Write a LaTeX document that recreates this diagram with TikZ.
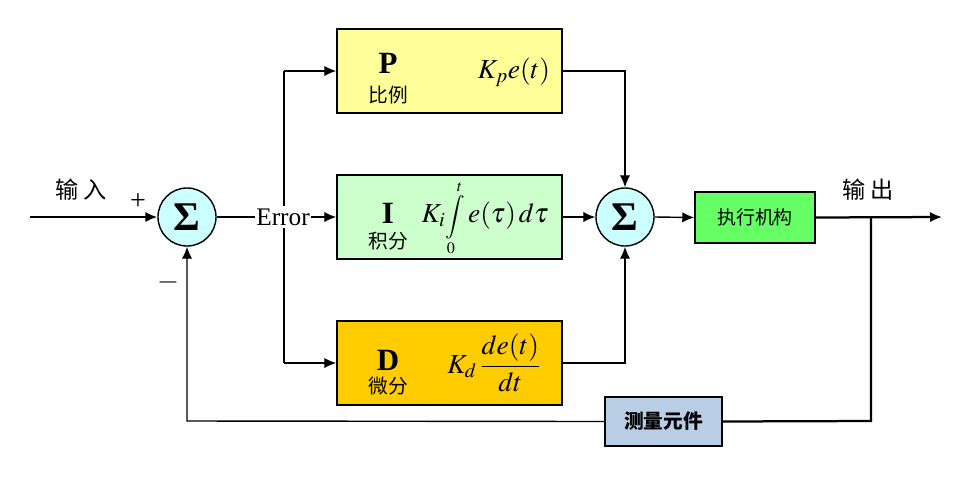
\documentclass[tikz,border=0pt]{standalone}
\usepackage{amsmath}
\usepackage{mathptmx}
\usepackage{fontspec}
\setmainfont{Liberation Serif}
\newfontfamily\cjk{Noto Sans CJK SC}
\usetikzlibrary{shapes,arrows.meta}
\definecolor{sumfill}{HTML}{CCFFFF}
\definecolor{pfill}{HTML}{FFFF99}
\definecolor{ifill}{HTML}{CCFFCC}
\definecolor{dfill}{HTML}{FFCC00}
\definecolor{actfill}{HTML}{66FF66}
\definecolor{sensfill}{HTML}{B9CDE5}
\tikzstyle{line} = [draw, line width=1pt, -{Latex[length=3mm,width=2.6mm]}]
\tikzstyle{sumnode} = [draw, circle, line width=1pt, fill=sumfill, minimum size=1.45cm, inner sep=0pt, font=\fontsize{29}{29}\selectfont\bfseries]
\tikzstyle{pidblock} = [draw, line width=1pt, minimum width=5.625cm, minimum height=2.1cm, inner sep=0pt]
\tikzstyle{letter} = [font=\fontsize{22}{22}\selectfont\bfseries]
\tikzstyle{cname} = [font=\cjk\fontsize{14}{14}\selectfont]
\tikzstyle{term} = [font=\fontsize{19.5}{19.5}\selectfont]

\begin{document}
\begin{tikzpicture}[x=0.025cm,y=-0.025cm]
\useasboundingbox (0,0) rectangle (980,502);
\coordinate (in) at (30,217);
\coordinate (out) at (942,217);
\coordinate (splittop) at (284,71);
\coordinate (splitbot) at (284,363);
\coordinate (ptop) at (625,71);
\coordinate (dbot) at (625,363);
\coordinate (tap) at (871,217);
\coordinate (tapbot) at (871,421);
\coordinate (fbcorner) at (187,421);
\draw[line width=1pt] (splittop) -- (splitbot);
%
\node[sumnode] (sum1) at (187,217) {Σ};
\node[sumnode] (sum2) at (625,217) {Σ};
\node[pidblock, fill=pfill] (pblk) at (449.5,71) {};
\node[pidblock, fill=ifill] (iblk) at (449.5,217) {};
\node[pidblock, fill=dfill] (dblk) at (449.5,363) {};
\node[draw, line width=1pt, fill=actfill, minimum width=3cm, minimum height=1.275cm, font=\cjk\fontsize{13.5}{13.5}\selectfont] (act) at (755,217.5) {执行机构};
\node[draw, line width=1pt, fill=sensfill, minimum width=2.925cm, minimum height=1.225cm, font=\cjk\bfseries\fontsize{14}{14}\selectfont] (sens) at (663.5,421.5) {测量元件};
\node[fill=white, inner xsep=1pt, inner ysep=2pt, font=\fontsize{18}{18}\selectfont] (err) at (283,217) {Error};
%
\node[letter] (plet) at (388,63) {P};
\node[cname] (pname) at (388,95) {比例};
\node[term] (pterm) at (514,72) {$K_p e(t)$};
\node[letter] (ilet) at (388,213) {I};
\node[cname] (iname) at (388,241) {积分};
\node[term, inner xsep=0pt] (iterm) at (485,218) {$K_i${\fontsize{15.5}{15.5}\selectfont$\displaystyle\int\limits_0^t$}$\,e(\tau)\,d\tau$};
\node[letter] (dlet) at (388,360) {D};
\node[cname] (dname) at (388,386) {微分};
\node[term] (dterm) at (494,363) {$K_d\,\dfrac{de(t)}{dt}$};
%
\node[font=\cjk\fontsize{16.5}{16.5}\selectfont] (inlbl) at (81,190) {输 入};
\node[font=\cjk\fontsize{16.5}{16.5}\selectfont] (outlbl) at (868,190) {输 出};
\node[font=\fontsize{20}{20}\selectfont] (plus) at (138,202) {+};
\node[font=\fontsize{20}{20}\selectfont] (minus) at (168,282) {$-$};
%
\path[line, line width=1.6pt] (in) -- (sum1.west);
\draw[line width=1pt] (sum1.east) -- (err.west);
\path[line] (err.east) -- (iblk.west);
\path[line] (splittop) -- (pblk.west);
\path[line] (splitbot) -- (dblk.west);
\path[line] (pblk.east) -- (ptop) -- (sum2.north);
\path[line] (iblk.east) -- (sum2.west);
\path[line] (dblk.east) -- (dbot) -- (sum2.south);
\path[line] (sum2.east) -- (act.west);
\path[line, line width=1.6pt] (act.east) -- (out);
\draw[line width=1.6pt] (tap) -- (tapbot) -- (sens.east);
\path[line] (sens.west) -- (fbcorner) -- (sum1.south);
\end{tikzpicture}
\end{document}
